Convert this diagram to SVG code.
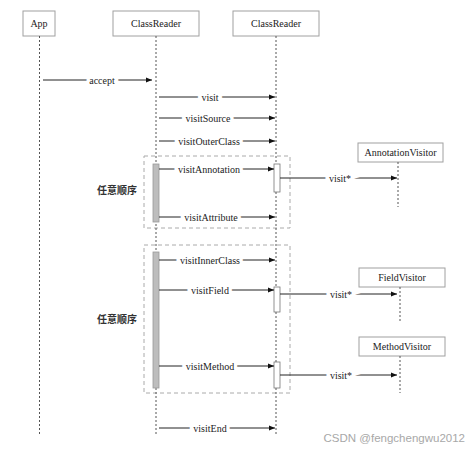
<svg xmlns="http://www.w3.org/2000/svg" width="474" height="450" viewBox="0 0 474 450">
<style>
.box{fill:#fff;stroke:#a0a0a0;stroke-width:1}
.life{stroke:#555;stroke-width:1;stroke-dasharray:2,2;fill:none}
.frame{fill:none;stroke:#aaa;stroke-width:1;stroke-dasharray:4,3}
.msg{stroke:#222;stroke-width:1;fill:none;marker-end:url(#ah)}
.t{font-family:"Liberation Serif","Times New Roman",serif;font-size:10px;fill:#222;text-anchor:middle}
.ml{font-family:"Liberation Serif","Times New Roman",serif;font-size:10px;fill:#222;text-anchor:middle;stroke:#fff;stroke-width:7;paint-order:stroke}
.cn{font-family:"Noto Sans CJK SC",sans-serif;font-size:10px;font-weight:bold;fill:#333;text-anchor:middle}
.gact{fill:#bdbdbd;stroke:#999;stroke-width:0.8}
.wact{fill:#fff;stroke:#777;stroke-width:0.8}
</style>
<defs>
<marker id="ah" viewBox="0 0 10 10" refX="10" refY="5" markerWidth="6" markerHeight="6" markerUnits="userSpaceOnUse" orient="auto">
<path d="M0,1 L10,5 L0,9 Z" fill="#111"/>
</marker>
</defs>
<rect width="474" height="450" fill="#fff"/>

<g id="frames">
<rect class="frame" x="144" y="156" width="146" height="72"/>
<rect class="frame" x="144" y="245" width="146" height="148"/>
<text class="cn" x="117" y="194">任意顺序</text>
<text class="cn" x="117" y="323">任意顺序</text>
</g>

<g id="App">
<rect class="box" x="23" y="11" width="32" height="25"/>
<text class="t" x="39" y="27">App</text>
<line class="life" x1="39.5" y1="36" x2="39.5" y2="435"/>
</g>
<g id="ClassReader1">
<rect class="box" x="113" y="11" width="86" height="25"/>
<text class="t" x="156" y="27">ClassReader</text>
<line class="life" x1="156" y1="36" x2="156" y2="435"/>
</g>
<g id="ClassReader2">
<rect class="box" x="233" y="11" width="86" height="25"/>
<text class="t" x="276" y="27">ClassReader</text>
<line class="life" x1="276" y1="36" x2="276" y2="435"/>
</g>
<g id="AnnotationVisitor">
<rect class="box" x="358" y="143" width="85" height="19"/>
<text class="t" x="400.5" y="156" textLength="72" lengthAdjust="spacingAndGlyphs">AnnotationVisitor</text>
<line class="life" x1="398" y1="162" x2="398" y2="207"/>
</g>
<g id="FieldVisitor">
<rect class="box" x="359" y="268" width="86" height="19"/>
<text class="t" x="402" y="281">FieldVisitor</text>
<line class="life" x1="400" y1="287" x2="400" y2="323"/>
</g>
<g id="MethodVisitor">
<rect class="box" x="359" y="337" width="86" height="19"/>
<text class="t" x="402" y="350">MethodVisitor</text>
<line class="life" x1="400" y1="356" x2="400" y2="393"/>
</g>

<g id="activations">
<rect class="gact" x="153" y="164" width="6" height="58"/>
<rect class="gact" x="153" y="252" width="6" height="136"/>
<rect class="wact" x="274" y="164" width="6" height="28"/>
<rect class="wact" x="274" y="287" width="6" height="25"/>
<rect class="wact" x="274" y="362" width="6" height="26"/>
</g>

<g id="connectors">
<line class="msg" x1="43" y1="80" x2="152" y2="80"/>
<text class="ml" x="102" y="83.5">accept</text>
<line class="msg" x1="159" y1="97" x2="275" y2="97"/>
<text class="ml" x="210" y="100.5">visit</text>
<line class="msg" x1="159" y1="118" x2="275" y2="118"/>
<text class="ml" x="208" y="121.5">visitSource</text>
<line class="msg" x1="159" y1="141" x2="275" y2="141"/>
<text class="ml" x="209" y="144.5">visitOuterClass</text>
<line class="msg" x1="159" y1="169" x2="274" y2="169"/>
<text class="ml" x="209" y="172.5">visitAnnotation</text>
<line class="msg" x1="280" y1="178" x2="397" y2="178"/>
<text class="ml" x="340" y="181.5">visit*</text>
<line class="msg" x1="159" y1="217" x2="275" y2="217"/>
<text class="ml" x="211" y="220.5">visitAttribute</text>
<line class="msg" x1="159" y1="260" x2="275" y2="260"/>
<text class="ml" x="210" y="263.5">visitInnerClass</text>
<line class="msg" x1="159" y1="290" x2="274" y2="290"/>
<text class="ml" x="210" y="293.5">visitField</text>
<line class="msg" x1="280" y1="294" x2="397" y2="294"/>
<text class="ml" x="341" y="297.5">visit*</text>
<line class="msg" x1="159" y1="366" x2="274" y2="366"/>
<text class="ml" x="210" y="369.5">visitMethod</text>
<line class="msg" x1="280" y1="375" x2="397" y2="375"/>
<text class="ml" x="341" y="378.5">visit*</text>
<line class="msg" x1="159" y1="428" x2="275" y2="428"/>
<text class="ml" x="210" y="431.5">visitEnd</text>
</g>

<text x="465" y="442" font-family="Liberation Sans, Arial, sans-serif" font-size="11.5" fill="#a8a8a8" text-anchor="end">CSDN @fengchengwu2012</text>
</svg>
